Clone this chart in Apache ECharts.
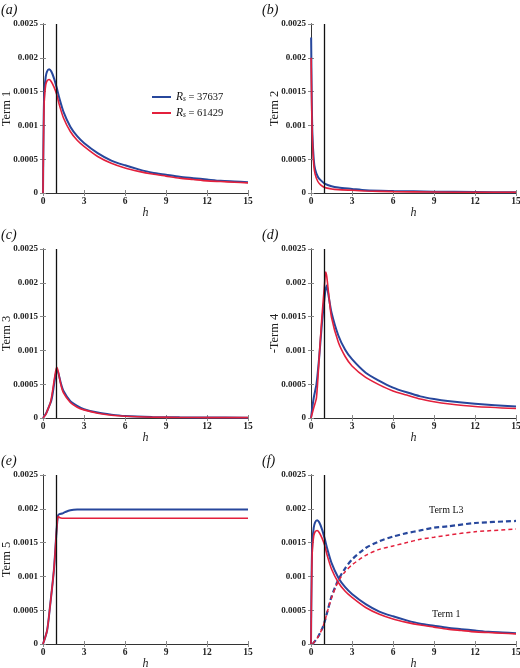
<!DOCTYPE html>
<html>
<head>
<meta charset="utf-8">
<script src="https://cdn.jsdelivr.net/npm/echarts@6/dist/echarts.min.js"></script>
<style>html,body{margin:0;padding:0;background:#fff}#c{width:520px;height:668px}</style>
</head>
<body>
<div id="c"></div>
<script>
// ---------- data ----------
const xTicks = [0, 3, 6, 9, 12, 15];
const yTicks = [0, 0.0005, 0.001, 0.0015, 0.002, 0.0025];
const seriesNames = ['Rs = 37637', 'Rs = 61429'];
const yNames = ['Term 1', 'Term 2', 'Term 3', '-Term 4', 'Term 5', ''];
const panelLabels = ['(a)', '(b)', '(c)', '(d)', '(e)', '(f)'];

const hT1 = [0,0.05,0.1,0.2,0.3,0.45,0.6,0.8,1,1.2,1.5,2,2.5,3,4,5,6,7,8,9,10,11,12,13,14,15];
const t1Blue = [0,0.0011,0.0015,0.00172,0.0018,0.00183,0.0018,0.0017,0.00156,0.0014,0.0012,0.00098,0.00084,0.00074,0.00059,0.00048,0.00041,0.00035,0.0003,0.00027,0.00024,0.00022,0.0002,0.00018,0.00017,0.00016];
const t1Red  = [0,0.001,0.0014,0.0016,0.00166,0.00168,0.00165,0.00157,0.00146,0.0013,0.00111,0.00091,0.00078,0.00069,0.00054,0.00044,0.00037,0.00032,0.00028,0.00025,0.00022,0.0002,0.00018,0.00017,0.00016,0.00015];

const hT2 = [0.01,0.05,0.1,0.2,0.3,0.5,0.7,1,1.5,2,3,4,6,9,12,15];
const t2Blue = [0.0023,0.0015,0.0009,0.0005,0.00035,0.00024,0.00019,0.00014,0.0001,0.00008,0.00006,0.00004,0.00003,0.00002,0.000015,0.00001];
const t2Red  = [0.002,0.0013,0.0008,0.00042,0.00028,0.00017,0.00012,0.00008,0.00006,0.00005,0.00004,0.00003,0.00002,0.000015,0.00001,0.00001];

const hT3 = [0,0.2,0.3,0.5,0.6,0.7,0.85,1,1.1,1.3,1.5,2,2.5,3,4,5,6,8,10,12,15];
const t3Blue = [0,0.00006,0.0001,0.0002,0.00025,0.00035,0.00055,0.0007,0.00068,0.00052,0.0004,0.00025,0.00018,0.00013,0.00008,0.00005,0.00003,0.000015,0.00001,0.000007,0.000005];
const t3Red  = [0,0.00005,0.0001,0.0002,0.00028,0.0004,0.0006,0.00075,0.0007,0.0005,0.00037,0.00023,0.00016,0.00012,0.00007,0.00004,0.000025,0.000012,0.000008,0.000006,0.000005];

const hT4 = [0,0.2,0.4,0.6,0.8,1,1.07,1.15,1.3,1.5,2,2.5,3,4,5,6,7,8,9,10,12,15];
const t4Blue = [0,0.0003,0.0005,0.0009,0.0014,0.0018,0.0019,0.00196,0.00179,0.00156,0.00122,0.00101,0.00087,0.00067,0.00055,0.00045,0.00038,0.00032,0.00028,0.00025,0.00021,0.00017];
const t4Red  = [0,0.00015,0.0003,0.0009,0.0015,0.002,0.00216,0.0021,0.00182,0.00149,0.00112,0.00091,0.00077,0.0006,0.00049,0.0004,0.00034,0.00028,0.00024,0.00021,0.00017,0.00014];

const hT5 = [0,0.3,0.5,0.8,1,1.1,1.2,1.4,1.6,2,2.5,3,6,9,12,15];
const t5Blue = [0,0.0002,0.00053,0.0011,0.0017,0.0019,0.00192,0.00193,0.00195,0.00198,0.00199,0.00199,0.00199,0.00199,0.00199,0.00199];
const t5Red  = [0,0.0002,0.00053,0.0011,0.0017,0.00189,0.00187,0.00186,0.00186,0.00186,0.00186,0.00186,0.00186,0.00186,0.00186,0.00186];

const hL3 = [0.12,0.2,0.5,0.8,1,1.2,1.5,2,2.5,3,4,5,6,7,8,9,10,12,15];
const l3Blue = [0,0.00002,0.0001,0.00022,0.00033,0.00048,0.0007,0.00095,0.00112,0.00125,0.00142,0.00152,0.00159,0.00164,0.00168,0.00172,0.00174,0.00179,0.00182];
const l3Red  = [0,0.00002,0.0001,0.00022,0.00033,0.00048,0.00068,0.00093,0.00107,0.00117,0.00131,0.0014,0.00145,0.0015,0.00155,0.00158,0.00161,0.00166,0.0017];

const vLineH = 1;

// ---------- build ----------
const BLUE = '#27479c', RED = '#e3203c';
const FONT = 'Liberation Serif';
const zip = (xs, ys) => xs.map((x, i) => [x, ys[i]]);

const panels = [
  {h: hT1, b: t1Blue, r: t1Red},
  {h: hT2, b: t2Blue, r: t2Red},
  {h: hT3, b: t3Blue, r: t3Red},
  {h: hT4, b: t4Blue, r: t4Red},
  {h: hT5, b: t5Blue, r: t5Red},
  {h: hT1, b: t1Blue, r: t1Red}
];
const lefts = [43, 311];
const tops = [24, 249, 475];
const labelLefts = [1, 262];
const W = 205, H = 169;

const grid = [], xAxis = [], yAxis = [], series = [], graphic = [];
panels.forEach((p, i) => {
  const col = i % 2, row = Math.floor(i / 2);
  grid.push({left: lefts[col], top: tops[row], width: W, height: H, containLabel: false, outerBoundsMode: 'none'});
  const axLine = {show: true, lineStyle: {color: '#333', width: 1}};
  const tick = {show: true, inside: true, length: 3, lineStyle: {color: '#888'}};
  xAxis.push({
    type: 'value', gridIndex: i, min: xTicks[0], max: xTicks[xTicks.length - 1], interval: 3,
    axisLine: axLine, axisTick: tick, splitLine: {show: false},
    axisLabel: {fontFamily: FONT, fontSize: 9.5, color: '#222', fontWeight: 'bold', margin: 4},
    name: 'h', nameLocation: 'middle', nameGap: 14, nameMoveOverlap: false,
    nameTextStyle: {fontFamily: FONT, fontStyle: 'italic', fontSize: 12, color: '#222'}
  });
  xAxis.push({
    type: 'value', gridIndex: i, position: 'top', min: xTicks[0], max: xTicks[xTicks.length - 1], interval: 3,
    axisLine: axLine, axisTick: tick, splitLine: {show: false}, axisLabel: {show: false}
  });
  yAxis.push({
    type: 'value', gridIndex: i, min: yTicks[0], max: yTicks[yTicks.length - 1], interval: 0.0005,
    axisLine: axLine, axisTick: tick, splitLine: {show: false},
    axisLabel: {fontFamily: FONT, fontSize: 9, color: '#222', fontWeight: 'bold', margin: 5,
      formatter: v => String(+v.toFixed(4))},
    name: yNames[i], nameLocation: 'middle', nameGap: 30, nameRotate: 90, nameMoveOverlap: false,
    nameTextStyle: {fontFamily: FONT, fontSize: 12.5, color: '#222'}
  });
  yAxis.push({
    type: 'value', gridIndex: i, position: 'right', min: yTicks[0], max: yTicks[yTicks.length - 1], interval: 0.0005,
    axisLine: axLine, axisTick: tick, splitLine: {show: false}, axisLabel: {show: false}
  });
  const xi = i * 2, yi = i * 2;
  series.push({
    name: seriesNames[0], type: 'line', xAxisIndex: xi, yAxisIndex: yi, data: zip(p.h, p.b),
    showSymbol: false, symbol: 'none', smooth: 0.25, lineStyle: {color: BLUE, width: 2}, itemStyle: {color: BLUE},
    z: 3
  });
  series.push({
    name: seriesNames[1], type: 'line', xAxisIndex: xi, yAxisIndex: yi, data: zip(p.h, p.r),
    showSymbol: false, symbol: 'none', smooth: 0.25, lineStyle: {color: RED, width: 1.6}, itemStyle: {color: RED},
    z: 4,
    markLine: {
      silent: true, symbol: 'none', label: {show: false},
      lineStyle: {color: '#111', width: 1.3, type: 'solid'},
      data: [{xAxis: vLineH}], animation: false
    }
  });
  if (i === 5) {
    series.push({
      name: 'L3 blue', type: 'line', xAxisIndex: xi, yAxisIndex: yi, data: zip(hL3, l3Blue),
      showSymbol: false, symbol: 'none', smooth: 0.25,
      lineStyle: {color: BLUE, width: 2.2, type: [5, 3]}, z: 3
    });
    series.push({
      name: 'L3 red', type: 'line', xAxisIndex: xi, yAxisIndex: yi, data: zip(hL3, l3Red),
      showSymbol: false, symbol: 'none', smooth: 0.25,
      lineStyle: {color: RED, width: 1.5, type: [4, 3]}, z: 4
    });
  }
  graphic.push({
    type: 'text', left: labelLefts[col], top: tops[row] - 21,
    style: {text: panelLabels[i], font: 'italic 14px "Liberation Serif"', fill: '#111'}
  });
});
graphic.push({type: 'text', left: 429, top: 505, style: {text: 'Term L3', font: '10px "Liberation Serif"', fill: '#111'}});
graphic.push({type: 'text', left: 432, top: 609, style: {text: 'Term 1', font: '10px "Liberation Serif"', fill: '#111'}});

const option = {
  animation: false,
  backgroundColor: '#fff',
  grid, xAxis, yAxis, series, graphic,
  legend: {
    data: seriesNames, left: 147, top: 86, orient: 'vertical', itemGap: 4,
    itemWidth: 19, itemHeight: 2, icon: 'rect',
    formatter: n => '{i|R}{s|s} {t|= ' + n.split('= ')[1] + '}',
    textStyle: {
      fontFamily: FONT, fontSize: 10.5, color: '#111',
      rich: {
        i: {fontFamily: FONT, fontStyle: 'italic', fontSize: 11.5, color: '#111'},
        s: {fontFamily: FONT, fontStyle: 'italic', fontSize: 7.5, color: '#111', verticalAlign: 'bottom', padding: [4, 0, 0, 0]},
        t: {fontFamily: FONT, fontSize: 10.5, color: '#111'}
      }
    }
  }
};
const chart = echarts.init(document.getElementById('c'), null, {renderer: 'canvas'});
chart.setOption(option);
</script>
</body>
</html>
